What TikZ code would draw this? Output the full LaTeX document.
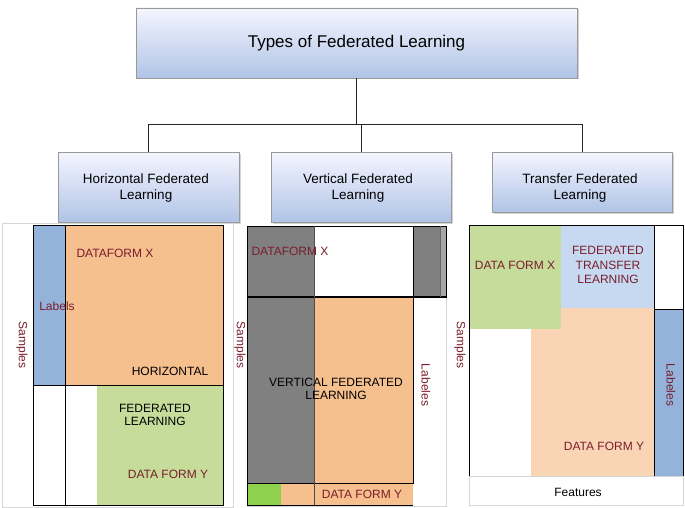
\documentclass[tikz,border=0pt]{standalone}
\usepackage{fontspec}
\setmainfont{Liberation Sans}
\usetikzlibrary{shadows}
\definecolor{dred}{RGB}{122,30,45}
\definecolor{orng}{RGB}{246,191,142}
\definecolor{grn}{RGB}{197,220,154}
\definecolor{lblue}{RGB}{147,179,218}
\definecolor{pblue}{RGB}{198,217,240}
\definecolor{peach}{RGB}{250,213,181}
\definecolor{dgray}{RGB}{128,128,128}
\definecolor{bgrn}{RGB}{143,209,79}
\definecolor{framec}{RGB}{215,215,215}
\tikzset{
  typebox/.style={draw=black!40, top color=blue!4!white, bottom color={rgb,255:red,176;green,196;blue,230},
    drop shadow={shadow xshift=1.5pt, shadow yshift=-1.5pt, opacity=0.35}, align=center, inner sep=2pt},
  typetxt/.style={font=\fontsize{13.5}{16}\selectfont, align=center, inner sep=0pt},
  conn/.style={draw=black!85, line width=1pt},
  edge/.style={draw=black, line width=0.9pt},
  frame/.style={draw=framec, line width=0.7pt},
  rtxt/.style={text=dred, font=\fontsize{12}{13}\selectfont, inner sep=0pt},
  btxt/.style={text=black, font=\fontsize{12}{13.5}\selectfont, inner sep=0pt, align=center},
}
\begin{document}
\begin{tikzpicture}[x=1pt,y=-1pt]
\useasboundingbox (0,0) rectangle (685,508);
% tree
\node[typebox, minimum width=441pt, minimum height=70pt, font=\fontsize{17}{19}\selectfont] (top) at (356.5,43) {Types of Federated Learning};
\node[typebox, minimum width=181pt, minimum height=70pt] (hb) at (148.5,187) {};
\node[typebox, minimum width=180pt, minimum height=70pt] (vb) at (361,187) {};
\node[typebox, minimum width=180pt, minimum height=60pt] (tb) at (582,182) {};
\node[typetxt] (hbt) at (146,188) {Horizontal Federated\\Learning};
\node[typetxt] (vbt) at (358,188) {Vertical Federated\\Learning};
\node[typetxt] (tbt) at (580,188) {Transfer Federated\\Learning};
\coordinate (bus) at (356.5,125);
\draw[conn] (top.south) -- (bus);
\draw[conn] (hb.north) -- ++(0,-27) -| (tb.north);
\draw[conn] (vb.north) -- (vb.north |- bus);

% ---------- panel 1 : horizontal ----------
\fill[white] (2,223) rectangle (233,507);
\draw[frame] (2,223) rectangle (233,507);
\fill[lblue] (33,225) rectangle (65,385);
\fill[orng] (65,225) rectangle (223,385);
\fill[grn] (97,385) rectangle (223,505);
\draw[edge] (33,225) rectangle (223,505);
\draw[edge] (33,385) -- (223,385);
\draw[edge] (65,225) -- (65,505);
\node[rtxt] (p1x) at (115,253) {DATAFORM X};
\node[rtxt] (p1l) at (57,306) {Labels};
\node[rtxt, rotate=-90] (p1s) at (22,345) {Samples};
\node[btxt] (p1h) at (170,371) {HORIZONTAL};
\node[btxt] (p1f) at (155,415) {FEDERATED\\LEARNING};
\node[rtxt] (p1y) at (168,474) {DATA FORM Y};

% ---------- panel 2 : vertical ----------
\fill[white] (247,226) rectangle (446,506);
\draw[frame] (247,226) rectangle (446,506);
\node[rtxt, rotate=-90] (p2s) at (240,345) {Samples};
\fill[dgray] (247,226) rectangle (314,297);
\fill[dgray] (413,226) rectangle (440,297);
\fill[black!35] (440,226) rectangle (446,297);
\fill[dgray] (247,297) rectangle (314,483);
\fill[orng] (314,297) rectangle (413,483);
\fill[bgrn] (247,483) rectangle (281,505);
\fill[orng] (281,483) rectangle (413,505);
\draw[edge] (247,226) rectangle (446,297);
\draw[edge, line width=1.3pt] (247,297) -- (446,297);
\draw[edge] (247,297) rectangle (413,483);
\draw[edge] (413,226) -- (413,297);
\draw[edge, draw=black!60] (440,226) -- (440,297);
\draw[edge, draw=black!70] (314,226) -- (314,505);
\draw[edge] (247,483) -- (247,505) -- (413,505);
\node[rtxt] (p2x) at (290,251) {DATAFORM X};
\node[btxt] (p2v) at (336,389) {VERTICAL FEDERATED\\LEARNING};
\node[rtxt] (p2y) at (362,494) {DATA FORM Y};
\node[rtxt, rotate=-90] (p2l) at (426,385) {Labeles};

% ---------- panel 3 : transfer ----------
\node[rtxt, rotate=-90] (p3s) at (460,345) {Samples};
\fill[peach] (531,308) rectangle (654,476);
\fill[pblue] (561,225) rectangle (654,308);
\fill[grn] (469,225) rectangle (561,329);
\fill[lblue] (654,309) rectangle (683,476);
\draw[edge] (469,225) rectangle (683,476);
\draw[edge] (654,225) -- (654,476);
\draw[edge] (654,309) -- (683,309);
\draw[frame] (469,476) rectangle (683,505);
\node[rtxt] (p3x) at (515,265) {DATA FORM X};
\node[rtxt, align=center, font=\fontsize{12}{14.5}\selectfont] (p3f) at (608,265) {FEDERATED\\TRANSFER\\LEARNING};
\node[rtxt] (p3y) at (604,446) {DATA FORM Y};
\node[rtxt, rotate=-90] (p3l) at (671,385) {Labeles};
\node[text=black, font=\fontsize{12}{13}\selectfont, inner sep=0pt] (p3ft) at (578,492) {Features};
\end{tikzpicture}
\end{document}
